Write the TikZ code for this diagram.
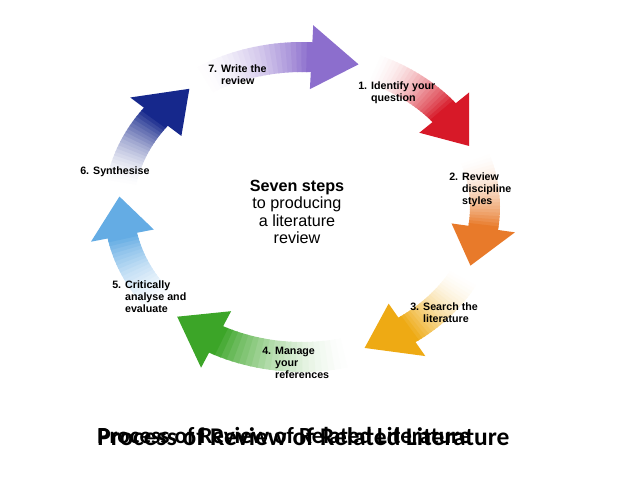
\documentclass[tikz,border=0pt]{standalone}
\usepackage{fontspec}
\setmainfont{Liberation Sans}
\newfontfamily\titlefont{Carlito}
\definecolor{stepPurple}{RGB}{140,110,205}
\definecolor{stepRed}{RGB}{215,25,40}
\definecolor{stepOrange}{RGB}{232,122,42}
\definecolor{stepYellow}{RGB}{238,170,20}
\definecolor{stepGreen}{RGB}{60,165,40}
\definecolor{stepBlue}{RGB}{100,172,228}
\definecolor{stepNavy}{RGB}{22,40,140}
\tikzset{
  steplabel/.style={anchor=north west, align=left, font=\fontsize{7.6}{8.6}\selectfont\bfseries, inner sep=0pt},
}
% ring arrow: start angle, tip angle, colour
\newcommand{\ringArrow}[3]{%
  \foreach \i in {0,...,23}{%
    \pgfmathsetmacro\ta{#1+(#2-15-#1)*\i/24}%
    \pgfmathsetmacro\tb{#1+(#2-15-#1)*(\i+1)/24+0.4}%
    \pgfmathtruncatemacro\pc{min(100,100*(\i/23)^1.8)}%
    \fill[#3!\pc!white] ({302+198*cos(\ta)},{207+165*sin(\ta)}) -- ({302+198*cos(\tb)},{207+165*sin(\tb)})
      -- ({302+168*cos(\tb)},{207+135*sin(\tb)}) -- ({302+168*cos(\ta)},{207+135*sin(\ta)}) -- cycle;
  }%
  \pgfmathsetmacro\th{#2-15}%
  \fill[#3] ({302+215*cos(\th)},{207+182*sin(\th)}) -- ({302+183*cos(#2)},{207+150*sin(#2)})
    -- ({302+151*cos(\th)},{207+118*sin(\th)}) -- cycle;
}
\begin{document}
\begin{tikzpicture}[x=0.025cm,y=-0.025cm]
  \useasboundingbox (0,0) rectangle (638,479);

  \ringArrow{-125}{-72}{stepPurple}
  \ringArrow{-69}{-24}{stepRed}
  \ringArrow{-21}{23}{stepOrange}
  \ringArrow{26}{70}{stepYellow}
  \ringArrow{73}{133}{stepGreen}
  \ringArrow{136}{184}{stepBlue}
  \ringArrow{187}{232}{stepNavy}

  \node[steplabel] (write) at (208,64) {7. Write the\\\hspace{1.2em}review};
  \node[steplabel] (identify) at (358,81) {1. Identify your\\\hspace{1.2em}question};
  \node[steplabel] (discipline) at (449,172) {2. Review\\\hspace{1.2em}discipline\\\hspace{1.2em}styles};
  \node[steplabel] (search) at (410,302) {3. Search the\\\hspace{1.2em}literature};
  \node[steplabel] (manage) at (262,347) {4. Manage\\\hspace{1.2em}your\\\hspace{1.2em}references};
  \node[steplabel] (analyse) at (112,280) {5. Critically\\\hspace{1.2em}analyse and\\\hspace{1.2em}evaluate};
  \node[steplabel] (synth) at (80,166) {6. Synthesise};

  \node[align=center, font=\fontsize{11.5}{12.5}\selectfont] (centre) at (297,212)
    {\textbf{Seven steps}\\to producing\\a literature\\review};

  \node[anchor=base west, inner sep=0pt, font=\titlefont\fontsize{16.4}{18}\selectfont\bfseries] (titleA) at (97,443)
    {Process of Review of Related Literature};
  \node[anchor=base west, inner sep=0pt, font=\titlefont\fontsize{18.1}{20}\selectfont\bfseries] (titleB) at (97,445)
    {Process of Review of Related Literature};
\end{tikzpicture}
\end{document}
